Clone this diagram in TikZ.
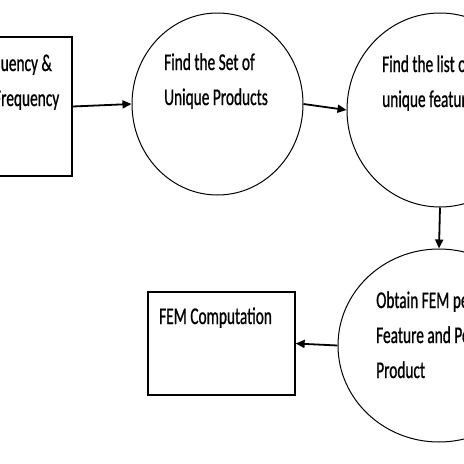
\documentclass[tikz,border=0pt]{standalone}
\usepackage{fontspec}
\setmainfont{Carlito}[FakeStretch=0.64,FakeBold=0.8]
\usetikzlibrary{shapes.geometric,arrows.meta}

\tikzset{
  stage/.style={draw,ellipse,line width=1pt,inner sep=0pt},
  task/.style={draw,rectangle,line width=1.3pt,inner sep=0pt},
  note/.style={align=left,inner sep=0pt,anchor=base west,
    font=\fontsize{24}{35}\selectfont,text=black},
  flow/.style={line width=1.8pt,-{Triangle[length=9pt,width=8pt]}}
}

\begin{document}
\begin{tikzpicture}[x=1pt,y=-1pt]
    \useasboundingbox (0,0) rectangle (464,464);
    \clip (0,0) rectangle (464,464);
    \fill[white] (0,0) rectangle (464,464);

    \node[task,minimum width=172pt,minimum height=139pt] (tfidf) at (-14,106.5) {};
    \node[stage,minimum width=171pt,minimum height=182pt] (prods) at (217.5,104) {};
    \node[stage,minimum width=186pt,minimum height=194pt] (feats) at (440,110) {};
    \node[stage,minimum width=202pt,minimum height=193pt] (fem) at (439,345.5) {};
    \node[task,minimum width=147pt,minimum height=103pt] (comp) at (221.5,343.5) {};

    \node[note] (tfidf-txt) at (-123,106) {Compute Term Frequency \&\\Inverse Document Frequency};
    \node[note] (prods-txt) at (164,105) {Find the Set of\\Unique Products};
    \node[note] (feats-txt) at (382,107) {Find the list of\\unique features};
    \node[note] (fem-txt) at (376,378) {Obtain FEM per\\Feature and Per\\Product};
    \node[note] (comp-txt) at (159,324) {FEM Computation};

    \draw[flow] (tfidf.east) -- (prods.west);
    \draw[flow] (prods.east) -- (feats.west);
    \draw[flow] (feats.south) -- (fem.north);
    \draw[flow] (fem.west) -- (comp.east);
\end{tikzpicture}
\end{document}
